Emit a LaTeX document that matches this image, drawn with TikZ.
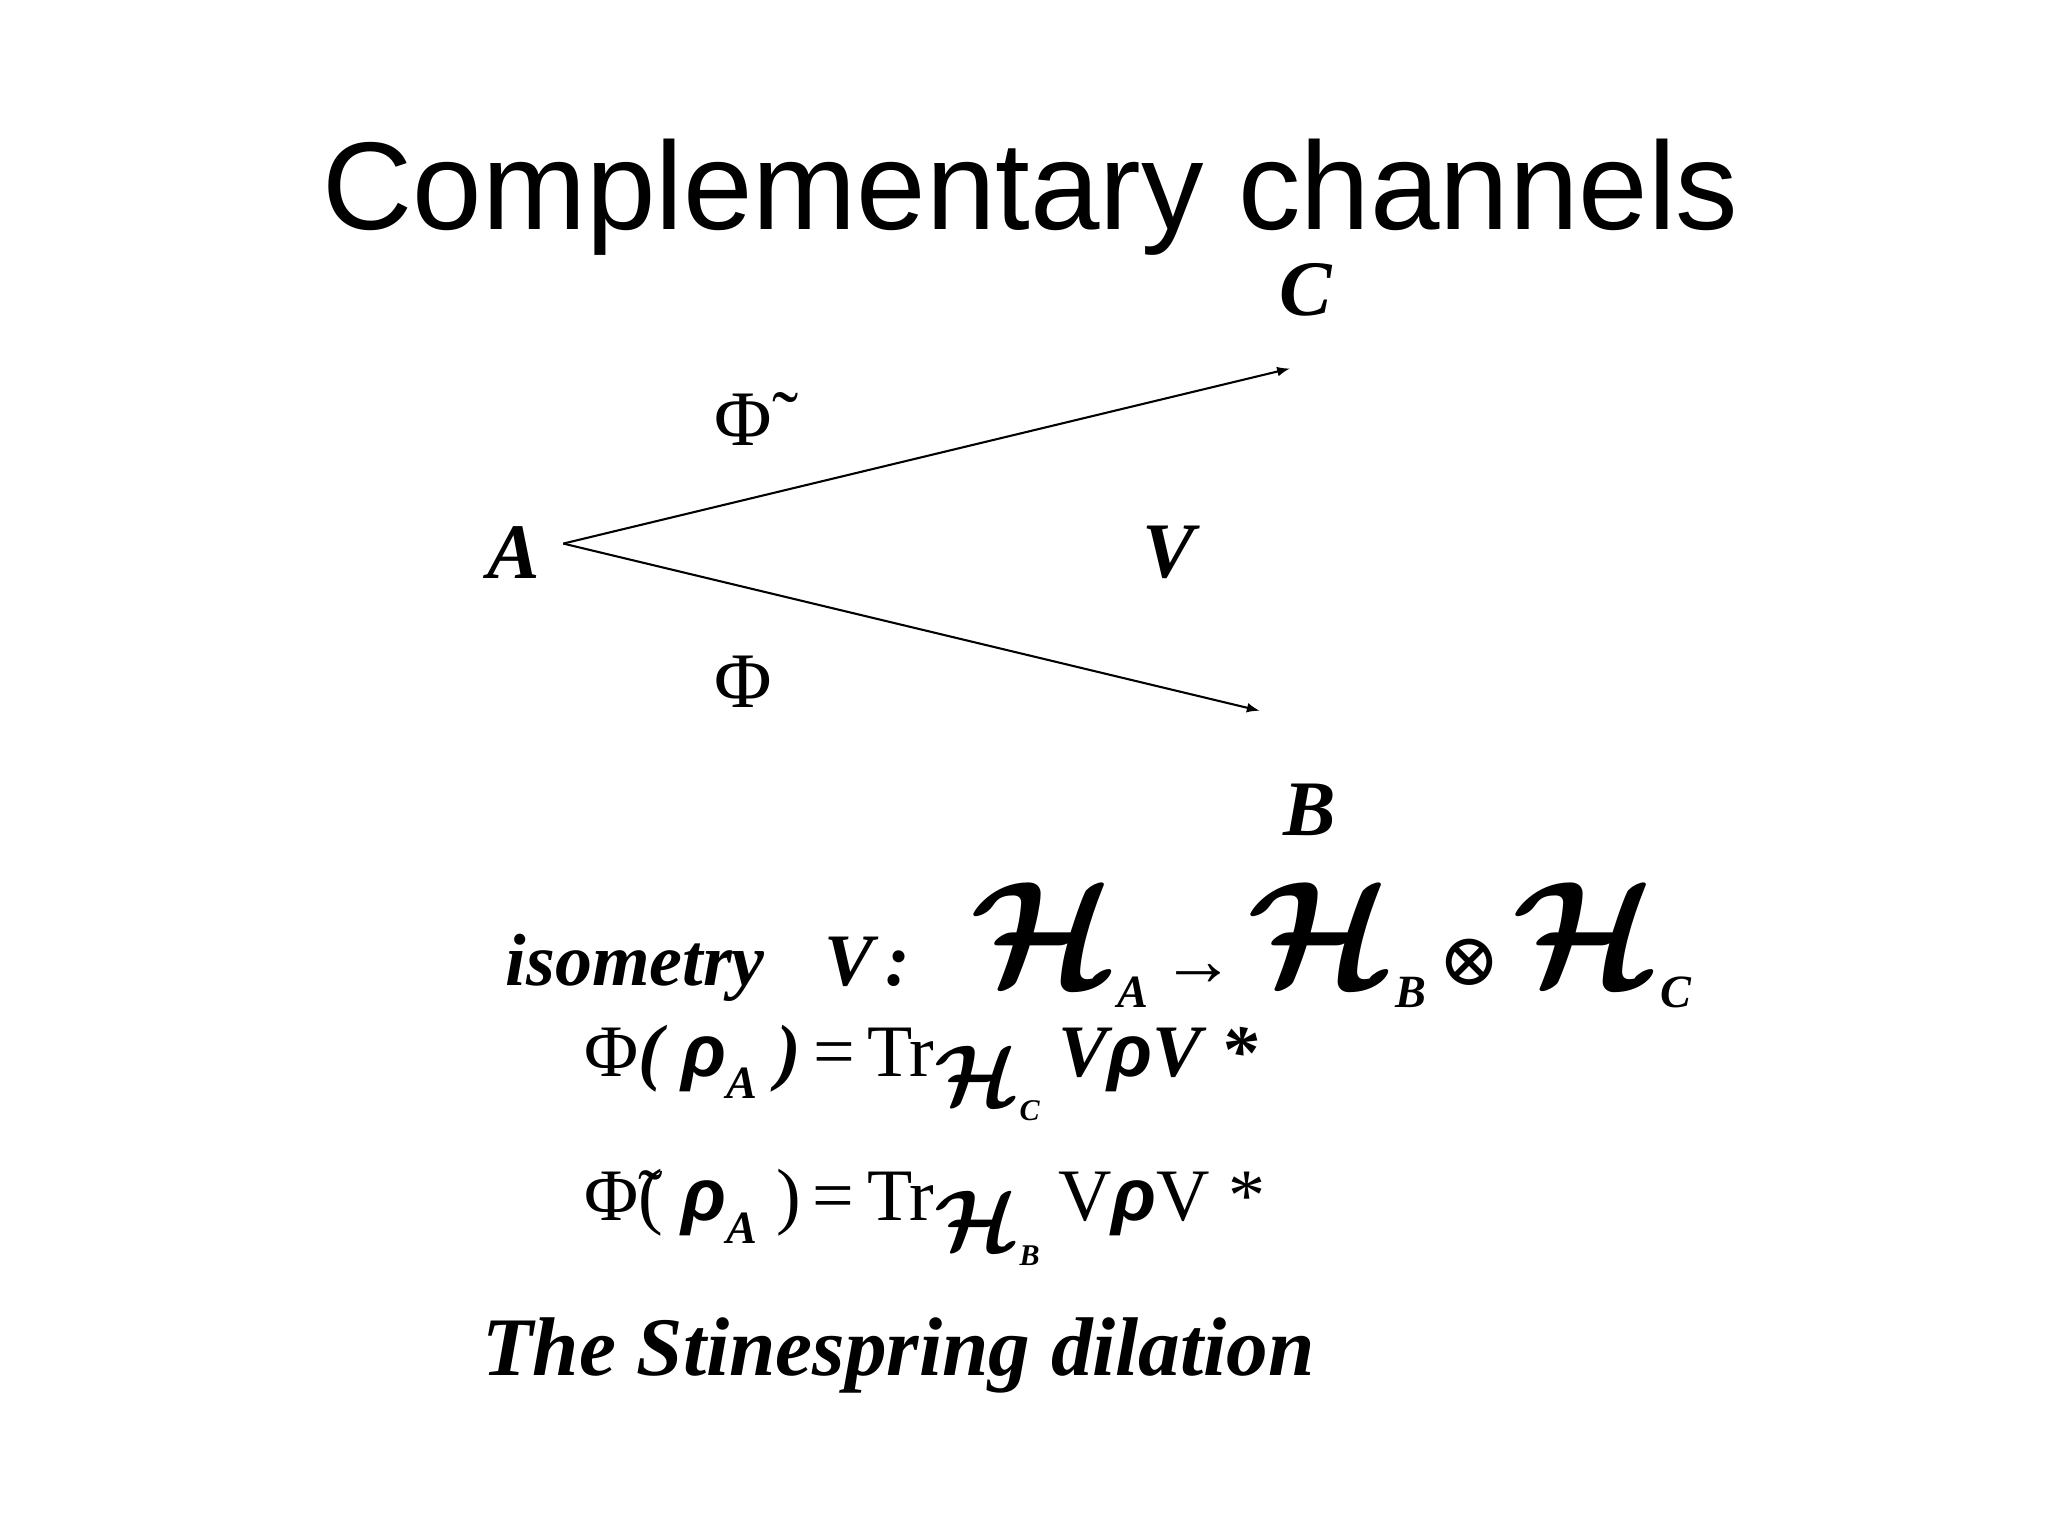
\documentclass[tikz,border=0pt]{standalone}
\usepackage{amsmath,amssymb,bm,graphicx}
\usepackage{fontspec}
\setmainfont{Liberation Serif}
\setsansfont{Liberation Sans}
\newfontfamily\titlefont{Liberation Sans}
\newfontfamily\symfont{DejaVu Serif}
\newcommand{\myrho}{{\sffamily\bfseries\itshape ρ}}
\newcommand{\mysub}[1]{{\fontsize{20}{24}\selectfont\bfseries\itshape #1}}
\newcommand{\Hs}[1]{\scalebox{2.6}{$\boldsymbol{\mathcal{H}}$}\raisebox{-0.3em}{\mysub{#1}}}
\newcommand{\Hsmall}[1]{\raisebox{-0.4em}{\scalebox{1.5}{$\boldsymbol{\mathcal{H}}$}\raisebox{-0.2em}{\fontsize{13}{15}\selectfont\bfseries\itshape #1}}}
\newcommand{\PhiT}{\~{\upshape\mdseries Φ}}
\begin{document}
\begin{tikzpicture}[x=0.02cm,y=-0.02cm,
  lbl/.style={font=\fontsize{34}{40}\selectfont\bfseries\itshape},
  eq/.style={font=\fontsize{32}{38}\selectfont\bfseries\itshape, anchor=west},
  arr/.style={-latex, line width=0.9pt}]
\useasboundingbox (0,0) rectangle (1556,1168);
\node[font=\titlefont\fontsize{54}{60}\selectfont] (title) at (783,150) {Complementary channels};
\node[lbl] (C) at (992,220) {C};
\node[lbl] (A) at (390,420) {A};
\node[lbl] (B) at (995,615) {B};
\node[lbl] (V) at (888,420) {V};
\node[font=\fontsize{34}{40}\selectfont] (pt) at (565,318) {\PhiT};
\node[font=\fontsize{34}{40}\selectfont] (p) at (565,518) {Φ};
\coordinate (s) at (428,413);
\coordinate (ce) at (980,280);
\coordinate (be) at (957,540);
\draw[arr] (s) -- (ce);
\draw[arr] (s) -- (be);
\node[eq] (iso) at (378,718) {isometry\;\; V\,:\;\; \Hs{A}\,{\upshape\mdseries →}\,\Hs{B}\,{\symfont\mdseries\upshape ⊗}\,\Hs{C}};
\node[eq] (e1) at (438,815) {{\upshape\mdseries Φ}( \myrho\raisebox{-0.3em}{\mysub{A}} ){\upshape\mdseries\,=\,Tr}\Hsmall{C}\ V\myrho V *};
\node[eq] (e2) at (438,925) {\PhiT( \myrho\raisebox{-0.3em}{\mysub{A}} ){\upshape\mdseries\,=\,Tr}\Hsmall{B}\ V\myrho V *};
\node[eq, font=\fontsize{36}{42}\selectfont\bfseries\itshape] (st) at (360,1030) {The Stinespring dilation};
\end{tikzpicture}
\end{document}
